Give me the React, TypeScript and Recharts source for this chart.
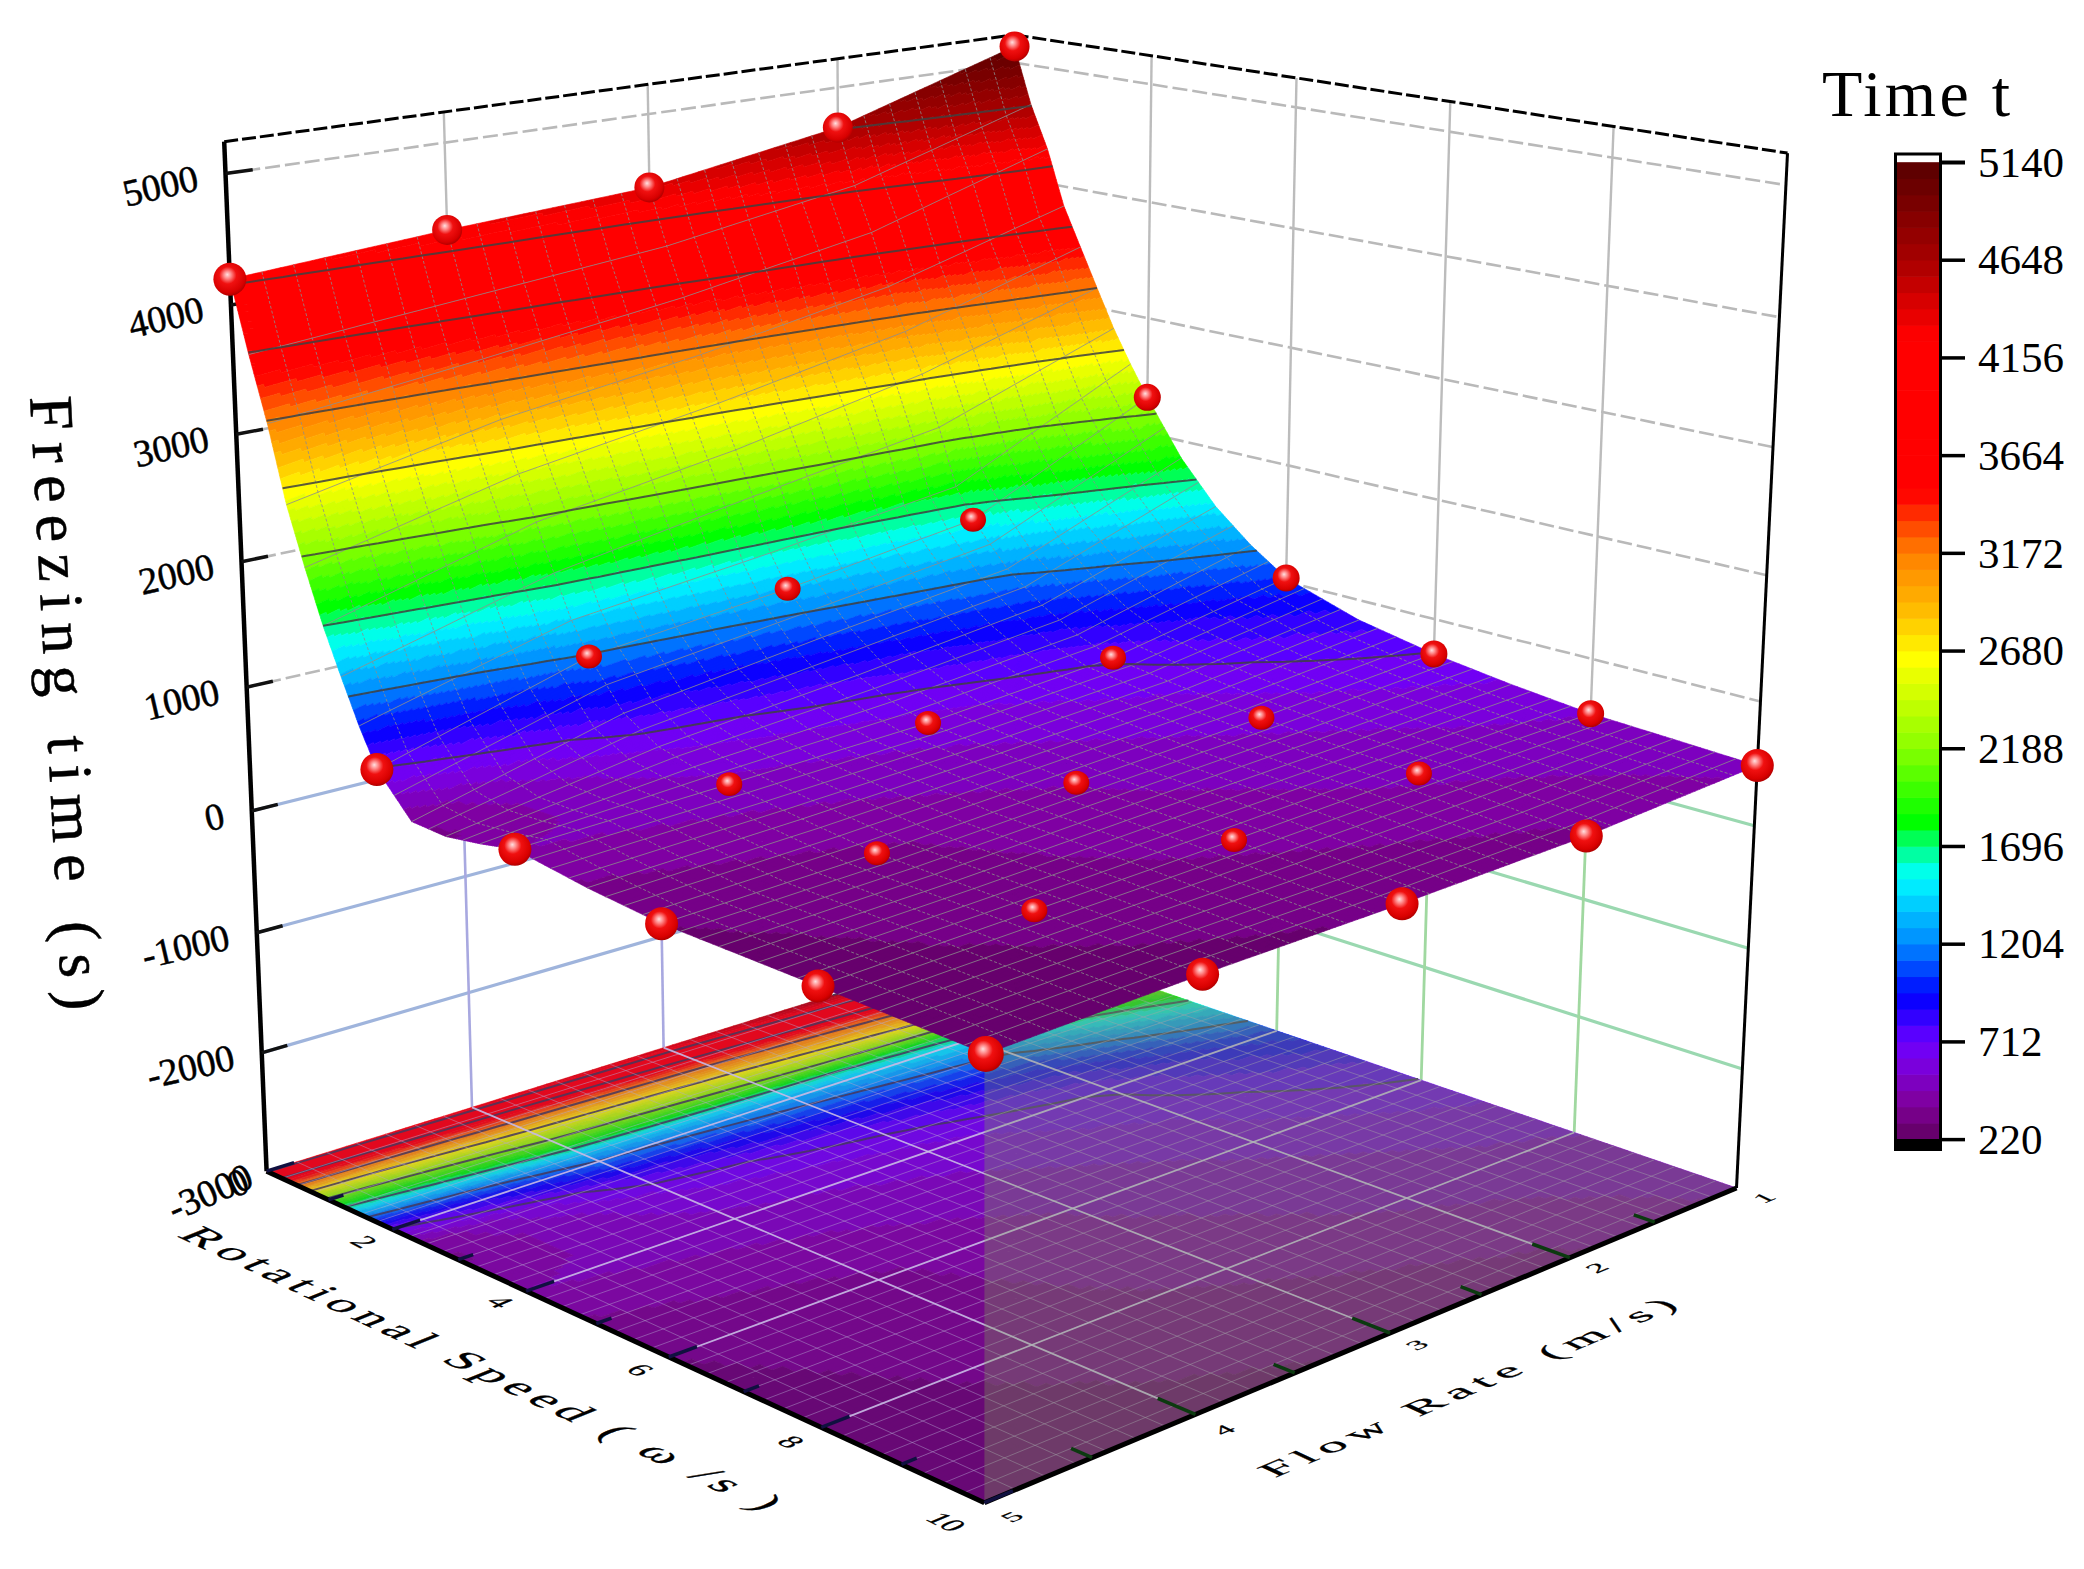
import React from "react"
import { ScatterChart, Scatter, XAxis, YAxis } from "recharts"

const W = 2084
const H = 1569

const flowTicks = [1, 2, 3, 4, 5]
const rotTicks = [0, 2, 4, 6, 8, 10]
const timeTicks = [-3000, -2000, -1000, 0, 1000, 2000, 3000, 4000, 5000]
const colorTicks = [5140, 4648, 4156, 3664, 3172, 2680, 2188, 1696, 1204, 712, 220]
const contourLevels = [4648, 4156, 3664, 3172, 2680, 2188, 1696, 1204, 712]

// surface, one list per flow rate, over rotValues
const rotValues = [0, 0.25, 0.5, 0.75, 1, 1.25, 1.5, 1.75, 2, 2.5, 3, 3.5, 4, 5, 6, 7, 8, 9, 10]
const surfaceFlow1 = [5140, 4660, 4300, 3830, 3500, 3172, 2850, 2570, 2312, 1850, 1500, 1240, 1031, 830, 707, 620, 551, 520, 487]
const surfaceFlow2 = [4663, 4200, 3830, 3400, 3050, 2720, 2300, 1830, 1584, 1240, 1010, 840, 730, 640, 577, 520, 485, 425, 369]
const surfaceFlow3 = [4403, 3950, 3560, 3120, 2750, 2400, 2050, 1620, 1362, 1040, 810, 680, 593, 530, 474, 440, 404, 355, 313]
const surfaceFlow4 = [4313, 3800, 3350, 2900, 2500, 2150, 1780, 1440, 1190, 820, 640, 570, 526, 440, 368, 350, 333, 305, 278]
const surfaceFlow5 = [4197, 3650, 3150, 2560, 2110, 1696, 1340, 1000, 704, 390, 370, 410, 465, 370, 304, 285, 266, 245, 221]
const surface = [surfaceFlow1, surfaceFlow2, surfaceFlow3, surfaceFlow4, surfaceFlow5]

// measured points, one list per flow rate, over rotTicks
const ballsFlow1 = [5139, 2312, 1031, 707, 551, 487]
const ballsFlow2 = [4663, 1584, 730, 577, 485, 369]
const ballsFlow3 = [4403, 1362, 593, 474, 404, 313]
const ballsFlow4 = [4313, 1190, 526, 368, 333, 278]
const ballsFlow5 = [4197, 704, 465, 304, 266, 221]
const balls = [ballsFlow1, ballsFlow2, ballsFlow3, ballsFlow4, ballsFlow5]

// colour map stops
const stopValues = [220, 400, 600, 712, 943, 1204, 1549, 1696, 1819, 2188, 2640, 2900, 3172, 3440, 3476, 4266, 4648, 5140]
const stopColors = ["#600060", "#80009a", "#7a00e0", "#6c00ff", "#0000ff", "#0088ff", "#00ffff", "#00ff80", "#00ff00", "#88ff00", "#ffff00", "#ffb800", "#ff8000", "#ff1000", "#ff0000", "#ff0000", "#a80000", "#580000"]

// where the box shows up in the picture: flow, rot, time, px, py
const cameraMarks = [
  [5, 0, -3000, 265, 1175], [5, 10, -3000, 982, 1506], [1, 10, -3000, 1738, 1188],
  [5, 0, 5240, 222, 142], [1, 0, 5240, 1015, 35], [1, 10, 5240, 1788, 152],
  [4, 10, -3000, 1193, 1413], [3, 10, -3000, 1388, 1333], [2, 10, -3000, 1569, 1257],
  [5, 2, -3000, 394, 1228], [5, 4, -3000, 529, 1290], [5, 6, -3000, 672, 1357], [5, 8, -3000, 823, 1428],
  [5, 0, 5000, 228, 173], [5, 0, 3000, 236, 433], [5, 0, 0, 253, 810], [5, 0, -1000, 255, 931], [5, 0, -2000, 260, 1052],
  [4, 0, 5240, 444, 113], [3, 0, 5240, 647, 86], [2, 0, 5240, 837, 57],
  [1, 2, 5240, 1151, 57], [1, 4, 5240, 1297, 79], [1, 8, 5240, 1614, 126],
]

const unit = (flow: number, rot: number, time: number) => [(flow - 1) / 4, rot / 10, (time + 3000) / 8240]

function fitCamera() {
  const A: number[][] = Array.from({ length: 11 }, () => new Array(12).fill(0))
  const addRow = (r: number[], b: number) => {
    for (let i = 0; i < 11; i++) {
      for (let j = 0; j < 11; j++) A[i][j] += r[i] * r[j]
      A[i][11] += r[i] * b
    }
  }
  cameraMarks.forEach(([f, r, z, px, py]) => {
    const [u, v, t] = unit(f, r, z)
    const x = px / 1000
    const y = py / 1000
    addRow([u, v, t, 1, 0, 0, 0, 0, -x * u, -x * v, -x * t], x)
    addRow([0, 0, 0, 0, u, v, t, 1, -y * u, -y * v, -y * t], y)
  })
  for (let c = 0; c < 11; c++) {
    let p = c
    for (let i = c + 1; i < 11; i++) if (Math.abs(A[i][c]) > Math.abs(A[p][c])) p = i
    const tmp = A[c]; A[c] = A[p]; A[p] = tmp
    for (let i = 0; i < 11; i++) {
      if (i === c) continue
      const m = A[i][c] / A[c][c]
      for (let j = c; j < 12; j++) A[i][j] -= m * A[c][j]
    }
  }
  return A.map((row, i) => row[11] / row[i])
}
const cam = fitCamera()

function project(flow: number, rot: number, time: number) {
  const [u, v, t] = unit(flow, rot, time)
  const w = cam[8] * u + cam[9] * v + cam[10] * t + 1
  return {
    x: ((cam[0] * u + cam[1] * v + cam[2] * t + cam[3]) / w) * 1000,
    y: ((cam[4] * u + cam[5] * v + cam[6] * t + cam[7]) / w) * 1000,
  }
}

const barStep = 82

function colorOf(z: number) {
  const q = Math.min(5140, Math.max(220, 220 + (Math.floor((z - 220) / barStep) + 0.5) * barStep))
  let i = 0
  while (i < stopValues.length - 2 && q > stopValues[i + 1]) i++
  const k = (q - stopValues[i]) / (stopValues[i + 1] - stopValues[i])
  const ca = stopColors[i]
  const cb = stopColors[i + 1]
  const ch = (s: string, o: number) => parseInt(s.slice(o, o + 2), 16)
  const mix = (o: number) => Math.round(ch(ca, o) + (ch(cb, o) - ch(ca, o)) * k)
  return `rgb(${mix(1)},${mix(3)},${mix(5)})`
}

function surfaceAt(flow: number, rot: number) {
  const c = Math.min(3, Math.floor(flow - 1))
  const s = flow - 1 - c
  let i = 0
  while (i < rotValues.length - 2 && rot > rotValues[i + 1]) i++
  const k = (rot - rotValues[i]) / (rotValues[i + 1] - rotValues[i])
  const a = surface[c][i] * (1 - k) + surface[c][i + 1] * k
  const b = surface[c + 1][i] * (1 - k) + surface[c + 1][i + 1] * k
  return a * (1 - s) + b * s
}

// drawing steps of the fill and the mesh, nothing new is read here
const meshFlow: number[] = Array.from({ length: 29 }, (_, i) => 1 + i / 7)
const rotSteps: number[] = []
rotValues.slice(0, -1).forEach((r, i) => {
  const d = rotValues[i + 1] - r
  const n = d < 0.6 ? 8 : 5
  for (let k = 0; k < n; k++) rotSteps.push(r + (d * k) / n)
})
rotSteps.push(10)

const P = (p: { x: number; y: number }) => `${p.x.toFixed(1)} ${p.y.toFixed(1)}`

type Mark = { x: number; y: number; [key: string]: any }

function sheetCells(onFloor: boolean): Mark[] {
  const out: Mark[] = []
  const place = (f: number, r: number) => project(f, r, onFloor ? -3000 : surfaceAt(f, r))
  const across = onFloor ? 84 : 140
  for (let i = 0; i < rotValues.length - 1; i++) {
    const r0 = rotValues[i]
    const span = rotValues[i + 1] - r0
    const down = span < 0.6 ? (onFloor ? 10 : 22) : 12
    const byColor: Record<string, string> = {}
    for (let a = 0; a < down; a++) {
      for (let b = 0; b < across; b++) {
        const f0 = 1 + (4 * b) / across
        const f1 = 1 + (4 * (b + 1)) / across
        const ra = r0 + (span * a) / down
        const rb = r0 + (span * (a + 1)) / down
        const c = colorOf(surfaceAt((f0 + f1) / 2, (ra + rb) / 2))
        byColor[c] = (byColor[c] || "") + `M${P(place(f0, ra))}L${P(place(f1, ra))}L${P(place(f1, rb))}L${P(place(f0, rb))}Z`
      }
    }
    const a = place(3, r0)
    out.push({ x: a.x, y: a.y, quads: Object.keys(byColor).map((c) => ({ c, d: byColor[c] })) })
  }
  return out
}

const pathMark = (pts: { x: number; y: number }[], stroke: string, width: number, dash?: string, opacity = 1): Mark => ({
  x: pts[0].x,
  y: pts[0].y,
  d: "M" + pts.map(P).join("L"),
  stroke,
  width,
  dash,
  opacity,
})

function meshMarks(onFloor: boolean): Mark[] {
  const out: Mark[] = []
  const place = (f: number, r: number) => project(f, r, onFloor ? -3000 : surfaceAt(f, r))
  const stroke = onFloor ? "#c8c8e0" : "#8c8c8c"
  const op = onFloor ? 0.45 : 0.8
  meshFlow.slice(1, -1).forEach((f) => {
    const pts = rotSteps.filter((_, i) => i % 2 === 0).map((r) => place(f, r))
    out.push(pathMark(pts, stroke, 1, onFloor ? undefined : "3 2", op))
  })
  for (let k = 1; k < 40; k++) {
    const r = k * 0.25
    out.push(pathMark(meshFlow.map((f) => place(f, r)), stroke, 1, undefined, op))
  }
  if (onFloor) {
    ;[2, 4, 6, 8].forEach((r) => out.push(pathMark([place(1, r), place(5, r)], "#e0e0fa", 1.8, undefined, 0.85)))
    ;[2, 3, 4].forEach((f) => out.push(pathMark([place(f, 0), place(f, 10)], "#e0e0fa", 1.8, undefined, 0.85)))
  }
  return out
}

function contourMarks(onFloor: boolean): Mark[] {
  const place = (f: number, r: number) => project(f, r, onFloor ? -3000 : surfaceAt(f, r))
  return contourLevels.map((level) => {
    let d = ""
    let first: { x: number; y: number } | null = null
    for (let a = 0; a < rotSteps.length - 1; a++) {
      for (let b = 0; b < meshFlow.length - 1; b++) {
        const c: [number, number][] = [
          [meshFlow[b], rotSteps[a]],
          [meshFlow[b + 1], rotSteps[a]],
          [meshFlow[b + 1], rotSteps[a + 1]],
          [meshFlow[b], rotSteps[a + 1]],
        ]
        const hits: { x: number; y: number }[] = []
        for (let e = 0; e < 4; e++) {
          const p = c[e]
          const q = c[(e + 1) % 4]
          const zp = surfaceAt(p[0], p[1]) - level
          const zq = surfaceAt(q[0], q[1]) - level
          if (zp < 0 !== zq < 0) {
            const k = zp / (zp - zq)
            hits.push(place(p[0] + (q[0] - p[0]) * k, p[1] + (q[1] - p[1]) * k))
          }
        }
        if (hits.length >= 2) {
          first = first || hits[0]
          d += `M${P(hits[0])}L${P(hits[1])}`
        }
      }
    }
    const o = first || { x: 0, y: 0 }
    return { x: o.x, y: o.y, d, stroke: onFloor ? "#3c3c50" : "#3f3f3f", width: 2, opacity: 0.85 }
  })
}

function wallMarks(): Mark[] {
  const out: Mark[] = []
  timeTicks.slice(1).forEach((z) => {
    const lower = z <= 0
    const width = lower ? 3.2 : 2.6
    const dash = lower ? undefined : "15 5"
    out.push(pathMark([project(5, 0, z), project(1, 0, z)], lower ? "#9fb4dc" : "#b9b9b9", width, dash))
    out.push(pathMark([project(1, 0, z), project(1, 10, z)], lower ? "#9ad8b0" : "#b9b9b9", width, dash))
  })
  ;[2, 3, 4].forEach((f) => {
    out.push(pathMark([project(f, 0, 5240), project(f, 0, 0)], "#bcbcbc", 2.4))
    out.push(pathMark([project(f, 0, 0), project(f, 0, -3000)], "#a8a8e0", 2.6))
  })
  ;[2, 4, 6, 8].forEach((r) => {
    out.push(pathMark([project(1, r, 5240), project(1, r, 0)], "#bcbcbc", 2.4))
    out.push(pathMark([project(1, r, 0), project(1, r, -3000)], "#a0d8a0", 2.8))
  })
  return out
}

function frameMarks(): Mark[] {
  const out: Mark[] = []
  const k = "#000"
  out.push(pathMark([project(5, 0, 5240), project(1, 0, 5240)], k, 3, "14 4"))
  out.push(pathMark([project(1, 0, 5240), project(1, 10, 5240)], k, 3, "14 4"))
  out.push(pathMark([project(5, 0, 5240), project(5, 0, -3000)], k, 4.5))
  out.push(pathMark([project(1, 10, 5240), project(1, 10, -3000)], k, 3))
  out.push(pathMark([project(5, 0, -3000), project(5, 10, -3000)], k, 5))
  out.push(pathMark([project(5, 10, -3000), project(1, 10, -3000)], k, 5))
  timeTicks.slice(1).forEach((z) => {
    out.push(pathMark([project(5, 0, z), project(4.88, 0, z)], "#111", 3.5))
  })
  rotTicks.concat([1, 3, 5, 7, 9]).forEach((r) => {
    out.push(pathMark([project(5, r, -3000), project(r % 2 ? 4.93 : 4.87, r, -3000)], "#101040", 3.5))
  })
  ;[1.5, 2, 2.5, 3, 3.5, 4, 4.5].forEach((f) => {
    out.push(pathMark([project(f, 10, -3000), project(f, f % 1 ? 9.75 : 9.55, -3000)], "#0c3a10", 3.5))
  })
  return out
}

function floorTint(): Mark[] {
  const corner = (f: number, r: number) => project(f, r, -3000)
  const whole = [corner(5, 0), corner(1, 0), corner(1, 10), corner(5, 10)]
  const seam = corner(5, 10).x
  let f = 1
  while (corner(f, 0).x > seam && f < 5) f += 0.01
  const right = [corner(f, 0), corner(1, 0), corner(1, 10), corner(5, 10)]
  return [
    { x: whole[0].x, y: whole[0].y, d: "M" + whole.map(P).join("L") + "Z", fill: "rgba(110,40,150,0.2)" },
    { x: right[0].x, y: right[0].y, d: "M" + right.map(P).join("L") + "Z", fill: "rgba(125,165,80,0.32)" },
  ]
}

const ballMarks: Mark[] = []
rotTicks.forEach((r, i) => {
  flowTicks.forEach((f, j) => {
    const p = project(f, r, balls[j][i])
    const corner = f === 5 && r === 10
    const front = f === 5 || r === 10
    const size = corner ? 18 : front ? 16.5 : r === 0 ? 15 : f === 1 ? 13.5 : 13
    ballMarks.push({ x: p.x, y: p.y, size, flat: !front && r !== 0 && f !== 1 })
  })
})

const barY = (z: number) => 162.5 + (5140 - z) * 0.1986
const barLevels = Array.from({ length: 60 }, (_, i) => 220 + (i + 0.5) * barStep)
const barMarks: Mark[] = barLevels.map((z) => ({ x: 1918, y: barY(z), c: colorOf(z), h: barStep * 0.1986 + 0.6 }))

const serif = "'Liberation Serif', 'DejaVu Serif', serif"

function textMarks(): Mark[] {
  const out: Mark[] = []
  const add = (x: number, y: number, label: string, size: number, transform: string, extra: object = {}) =>
    out.push({ x, y, label, size, transform, ...extra })
  timeTicks.forEach((z) => {
    const a = project(5, 0, z)
    const low = z === -3000
    add(a.x + (low ? -16 : -28), a.y + (low ? 3 : 4), String(z), 38, `rotate(${low ? -24 : -13})`, { anchor: "end", heavy: true })
  })
  const rotAt = [[0, 238, 1183], [2, 364, 1242], [4, 500, 1302], [6, 640, 1370], [8, 791, 1442], [10, 946, 1522]]
  rotAt.forEach(([r, x, y], i) => {
    if (i === 0) add(x, y, String(r), 38, "rotate(-24)", { anchor: "middle", heavy: true })
    else add(x, y, String(r), 38, "matrix(0.7,0.36,-0.7,0.3,0,0)", { anchor: "middle", heavy: true })
  })
  const flowAt = [[1, 1764, 1198], [2, 1597, 1268], [3, 1417, 1345], [4, 1224, 1430], [5, 1012, 1517]]
  flowAt.forEach(([f, x, y]) => add(x, y, String(f), 38, "matrix(0.75,-0.32,0.5,0.24,0,0)", { anchor: "middle", heavy: true }))
  colorTicks.forEach((z) => add(1978, barY(z), String(z), 43, "", { anchor: "start" }))
  add(1822, 116, "Time t", 66, "", { anchor: "start", len: 188, base: true })
  add(30, 397, "Freezing time (s)", 62, "rotate(87)", { anchor: "start", len: 615, base: true, heavy: true })
  add(176, 1236, "Rotational Speed ( ω /s )", 50, "matrix(0.87,0.41,-0.8,0.32,0,0)", { anchor: "start", len: 672, base: true, heavy: true })
  add(1275, 1478, "Flow Rate (m/s)", 50, "matrix(0.92,-0.39,0.6,0.28,0,0)", { anchor: "start", len: 440, base: true, heavy: true })
  return out
}

const drawQuads = (props: any) => (
  <g transform={`translate(${props.cx - props.payload.x},${props.cy - props.payload.y})`}>
    {props.payload.quads.map((q: any) => (
      <path key={q.c} d={q.d} fill={q.c} stroke={q.c} strokeWidth={0.6} />
    ))}
  </g>
)

const drawLine = (props: any) => {
  const m = props.payload
  return (
    <path
      transform={`translate(${props.cx - m.x},${props.cy - m.y})`}
      d={m.d}
      fill={m.fill || "none"}
      stroke={m.stroke || "none"}
      strokeWidth={m.width}
      strokeDasharray={m.dash}
      opacity={m.opacity}
    />
  )
}

const drawBall = (props: any) => (
  <ellipse cx={props.cx} cy={props.cy} rx={props.payload.size} ry={props.payload.size * (props.payload.flat ? 0.92 : 1)} fill="url(#ball)" />
)

const drawBand = (props: any) => {
  const m = props.payload
  return <rect x={props.cx - 22} y={props.cy - m.h / 2} width={44} height={m.h} fill={m.c} />
}

const drawText = (props: any) => {
  const m = props.payload
  return (
    <text
      transform={`translate(${props.cx},${props.cy}) ${m.transform}`}
      fontFamily={serif}
      fontSize={m.size}
      textAnchor={m.anchor}
      dy={m.base ? 0 : "0.33em"}
      textLength={m.len}
      fill="#000"
      stroke={m.heavy ? "#000" : "none"}
      strokeWidth={m.heavy ? 0.5 : 0}
    >
      {m.label}
    </text>
  )
}

const barFrame: Mark[] = [
  { x: 1918, y: 152.5, d: "M1895.5 154H1940.5V1149.5H1895.5Z", stroke: "#000", width: 3 },
  { x: 1918, y: 1145, d: "M1895 1139H1941V1151H1895Z", fill: "#000" },
  ...colorTicks.map((z) => ({ x: 1942, y: barY(z), d: `M1942 ${barY(z)}H1965`, stroke: "#000", width: z === 5140 ? 4 : 3.5 })),
]

export default function App() {
  return (
    <div style={{ position: "absolute", left: 0, top: 0, width: W, height: H, background: "#fff" }}>
      <ScatterChart width={W} height={H} margin={{ top: 0, right: 0, bottom: 0, left: 0 }}>
        <defs>
          <radialGradient id="ball" cx="0.46" cy="0.42" r="0.62" fx="0.42" fy="0.36">
            <stop offset="0" stopColor="#ffe0e0" />
            <stop offset="0.18" stopColor="#ff8a8a" />
            <stop offset="0.42" stopColor="#f01010" />
            <stop offset="0.8" stopColor="#d80000" />
            <stop offset="1" stopColor="#a00000" />
          </radialGradient>
        </defs>
        <XAxis type="number" dataKey="x" domain={[0, W]} hide />
        <YAxis type="number" dataKey="y" domain={[0, H]} reversed hide />
        <Scatter data={wallMarks()} shape={drawLine} isAnimationActive={false} />
        <Scatter data={sheetCells(true)} shape={drawQuads} isAnimationActive={false} />
        <Scatter data={contourMarks(true)} shape={drawLine} isAnimationActive={false} />
        <Scatter data={meshMarks(true)} shape={drawLine} isAnimationActive={false} />
        <Scatter data={floorTint()} shape={drawLine} isAnimationActive={false} />
        <Scatter data={frameMarks()} shape={drawLine} isAnimationActive={false} />
        <Scatter data={sheetCells(false)} shape={drawQuads} isAnimationActive={false} />
        <Scatter data={meshMarks(false)} shape={drawLine} isAnimationActive={false} />
        <Scatter data={contourMarks(false)} shape={drawLine} isAnimationActive={false} />
        <Scatter data={ballMarks} shape={drawBall} isAnimationActive={false} />
        <Scatter data={barMarks} shape={drawBand} isAnimationActive={false} />
        <Scatter data={barFrame} shape={drawLine} isAnimationActive={false} />
        <Scatter data={textMarks()} shape={drawText} isAnimationActive={false} />
      </ScatterChart>
    </div>
  )
}
